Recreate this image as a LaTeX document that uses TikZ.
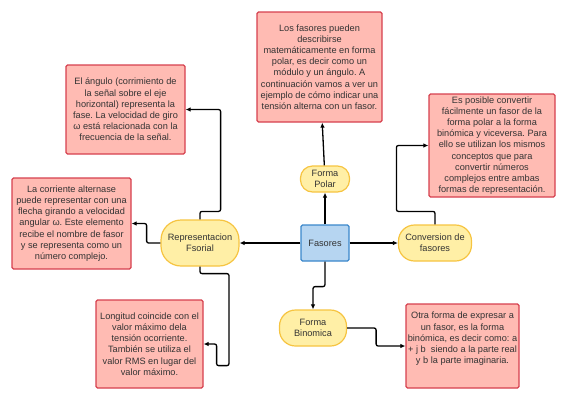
\documentclass[tikz,border=0pt]{standalone}
\usepackage{fontspec}
\setmainfont{Liberation Sans}
\usepackage{xcolor}
\usepackage{tikz}
\usetikzlibrary{arrows.meta,shapes,shapes.geometric}
\usetikzlibrary{positioning}
\frenchspacing

\definecolor{notefill}{HTML}{FFBBB3}
\definecolor{noteline}{HTML}{D6404E}
\definecolor{topicfill}{HTML}{FFEFA6}
\definecolor{topicline}{HTML}{F6C441}
\definecolor{corefill}{HTML}{B6D5F1}
\definecolor{coreline}{HTML}{3A87CB}
\definecolor{txt}{HTML}{333333}

\begin{document}
\begin{tikzpicture}[x=1pt, y=-1pt,
  every node/.style={text=txt, font=\fontsize{9.2}{11.2}\selectfont, align=center, inner sep=0pt},
  note/.style={rectangle, draw=noteline, fill=notefill, line width=1.2pt, rounded corners=1.5pt},
  topic/.style={rectangle, draw=topicline, fill=topicfill, line width=1.2pt},
  core/.style={rectangle, draw=coreline, fill=corefill, line width=1.2pt, rounded corners=1.5pt},
  link/.style={draw, line width=1.3pt, rounded corners=2pt, -{Latex[length=5pt,width=4.5pt]}}]

\useasboundingbox (0,0) rectangle (567,400);

\node[core, minimum width=48pt, minimum height=36pt] (fas) at (325,243) {Fasores};

\node[topic, rounded corners=12pt, minimum width=49pt, minimum height=26pt] (polar) at (325,179) {Forma\\Polar};
\node[topic, rounded corners=16pt, minimum width=73pt, minimum height=36pt] (conv) at (435,243) {Conversion de\\fasores};
\node[topic, rounded corners=16pt, minimum width=67pt, minimum height=36pt] (binom) at (313,328) {Forma\\Binomica};
\node[topic, rounded corners=20pt, minimum width=78pt, minimum height=46pt] (repr) at (200,243) {Representacion\\Fsorial};

\node[note, minimum width=125pt, minimum height=110pt] (tab1) at (319.5,67) {
Los fasores pueden\\
describirse\\
matemáticamente en forma\\
polar, es decir como un\\
módulo y un ángulo. A\\
continuación vamos a ver un\\
ejemplo de cómo indicar una\\
tensión alterna con un fasor.
};

\node[note, minimum width=119pt, minimum height=89pt] (tab2) at (125.5,109.5) {
El ángulo (corrimiento de\\
la señal sobre el eje\\
horizontal) representa la\\
fase. La velocidad de giro\\
ω está relacionada con la\\
frecuencia de la señal.
};

\node[note, minimum width=126pt, minimum height=103pt] (tab3) at (492,145.5) {
Es posible convertir\\
fácilmente un fasor de la\\
forma polar a la forma\\
binómica y viceversa. Para\\
ello se utilizan los mismos\\
conceptos que para\\
convertir números\\
complejos entre ambas\\
formas de representación.
};

\node[note, minimum width=119pt, minimum height=91pt] (tab4) at (71.5,223.5) {
La corriente alternase\\
puede representar con una\\
flecha girando a velocidad\\
angular ω. Este elemento\\
recibe el nombre de fasor\\
y se representa como un\\
número complejo.
};

\node[note, minimum width=107pt, minimum height=88pt] (tab5) at (149.5,344) {
Longitud coincide con el\\
valor máximo dela\\
tensión ocorriente.\\
También se utiliza el\\
valor RMS en lugar del\\
valor máximo.
};

\node[note, minimum width=113pt, minimum height=84pt] (tab6) at (462.5,346) {
Otra forma de expresar a\\
un fasor, es la forma\\
binómica, es decir como: a\\
+ j b \ siendo a la parte real\\
y b la parte imaginaria.\\[5pt]
};

\path[link] (fas) -- (polar);
\path[link] (polar) -- (tab1);
\path[link] (fas) -- (repr);
\path[link] (fas) -- (conv);
\path[link] (conv.north) -- ++(0,-13) -| ([xshift=-32pt]tab3.west) -- (tab3.west);
\path[link] (fas.south) -- ++(0,25) -| (binom.north);
\path[link] (binom.east) -- ++(29,0) |- (tab6.west);

\path[link] (repr.north) -- ++(0,-8) -| ([xshift=35pt]tab2.east) -- (tab2.east);
\path[link] (repr.west) -| ([xshift=15pt]tab4.east) -- (tab4.east);
\path[link] (repr.south) -- ++(0,7) -- ++(29,0) -- ++(0,92) -| ([xshift=13pt]tab5.east) -- (tab5.east);

\end{tikzpicture}
\end{document}
